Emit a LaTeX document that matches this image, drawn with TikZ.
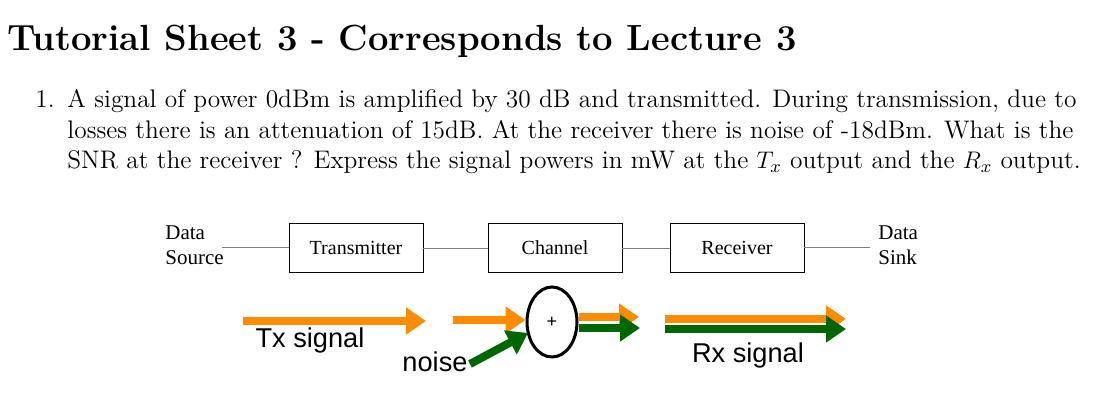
\documentclass[tikz,border=0pt]{standalone}
\usepackage{fontspec}
\newfontfamily\timesfont{Liberation Serif}
\newfontfamily\arialfont{Liberation Sans}
\usetikzlibrary{arrows.meta,positioning,shapes.geometric}

\begin{document}
\begin{tikzpicture}[
    x=0.5pt, y=-0.5pt,
    box/.style={rectangle, draw, minimum width=67pt, minimum height=24.5pt, align=center, font=\timesfont\fontsize{10}{11}\selectfont},
    lbl/.style={align=left, font=\timesfont\fontsize{10.5}{12.5}\selectfont, inner sep=0pt},
    link/.style={draw=gray, line width=0.5pt},
    sig/.style={line width=4pt, -{Triangle[length=10pt,width=13pt]}},
    orng/.style={sig, color=orange!90!yellow},
    grn/.style={sig, color=green!40!black},
    word/.style={font=\arialfont\fontsize{13.6}{15}\selectfont, inner sep=0pt}
]
\useasboundingbox (0,0) rectangle (1116,402);

% heading and question
\node[anchor=base west, inner sep=0pt, font=\fontsize{18.2}{21}\bfseries\selectfont] (title) at (7,50) {Tutorial Sheet 3 - Corresponds to Lecture 3};
\node[anchor=base west, inner sep=0pt, font=\fontsize{12.7}{15}\selectfont] (num) at (35,107) {1.};
\node[anchor=north west, inner sep=0pt, text width=514pt, align=justify, font=\fontsize{12.7}{15.3}\selectfont] (question) at (67,89)
  {A signal of power 0dBm is amplified by 30 dB and transmitted. During transmission, due to\\ losses there is an attenuation of 15dB. At the receiver there is noise of -18dBm. What is the\\ SNR at the receiver ? Express the signal powers in mW at the $T_x$ output and the $R_x$ output.};

% block chain
\node[box] (tx) at (356,248) {Transmitter};
\node[box] (chan) at (555,248) {Channel};
\node[box] (rx) at (737,248) {Receiver};
\node[lbl, anchor=west] (src) at (165,245) {Data\\Source};
\node[lbl, anchor=west] (sink) at (878,245) {Data\\Sink};
\coordinate (srcend) at (222,247);
\coordinate (sinkend) at (870,247);
\draw[link] (srcend) -- (srcend -| tx.west);
\draw[link] (tx) -- (chan);
\draw[link] (chan) -- (rx);
\draw[link] (rx.east |- sinkend) -- (sinkend);

% signal arrows
\node[ellipse, draw, line width=1.5pt, minimum width=25pt, minimum height=35pt, inner sep=0pt, font=\arialfont\fontsize{9}{10}\selectfont] (sum) at (552,322) {+};
\coordinate (txa) at (243,321);
\coordinate (txb) at (426,321);
\coordinate (cha) at (453,320);
\coordinate (nz) at (470,364);
\coordinate (nzb) at (528,333);
\coordinate (oa) at (639,317);
\coordinate (ga) at (640,328);
\coordinate (ra) at (665,319);
\coordinate (rb) at (846,319);
\coordinate (rc) at (665,329);
\coordinate (rd) at (846,329);
\draw[orng] (txa) -- (txb);
\draw[orng] (cha) -- (cha -| sum.west);
\draw[grn] (nz) -- (nzb);
\draw[orng] (sum.east |- oa) -- (oa);
\draw[grn] (sum.east |- ga) -- (ga);
\draw[orng] (ra) -- (rb);
\draw[grn] (rc) -- (rd);

\node[word] (txl) at (310,340) {Tx signal};
\node[word] (noise) at (435,362) {noise};
\node[word] (rxl) at (748,355) {Rx signal};
\end{tikzpicture}
\end{document}
